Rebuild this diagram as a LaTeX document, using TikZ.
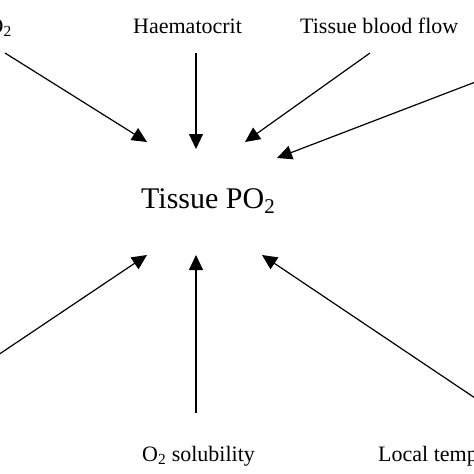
\documentclass[tikz,border=0pt]{standalone}
\usepackage{fontspec}
\setmainfont{Liberation Serif}
\usetikzlibrary{arrows.meta}
\begin{document}
\begin{tikzpicture}[x=1pt,y=-1pt,
  lbl/.style={inner sep=0pt, font=\fontsize{22}{26}\selectfont},
  big/.style={inner sep=0pt, font=\fontsize{30}{34}\selectfont},
  arr/.style={line width=1.2pt, -{Triangle[length=15pt,width=14pt]}}]
\useasboundingbox (0,0) rectangle (474,474);
\clip (0,0) rectangle (474,474);
% labels
\node[big, anchor=base west] (tpo) at (141,208) {Tissue PO\textsubscript{2}};
\node[lbl, anchor=base east] (apo) at (12,33) {PO\textsubscript{2}};
\node[lbl, anchor=base west] (hct) at (133,33) {Haematocrit};
\node[lbl, anchor=base west] (tbf) at (300,33) {Tissue blood flow};
\node[lbl, anchor=base west] (sol) at (142,461) {O\textsubscript{2} solubility};
\node[lbl, anchor=base west] (ltp) at (378,461) {Local temperature};
% arrow end points
\coordinate (s1) at (5,53);    \coordinate (e1) at (147,142);
\coordinate (s2) at (196,53);  \coordinate (e2) at (196,149);
\coordinate (s3) at (370,53);  \coordinate (e3) at (245,142);
\coordinate (s4) at (478,81);  \coordinate (e4) at (277,158);
\coordinate (s5) at (-2,355);  \coordinate (e5) at (147,255);
\coordinate (s6) at (196,413); \coordinate (e6) at (196,255);
\coordinate (s7) at (478,400); \coordinate (e7) at (262,255);
\foreach \i in {1,...,7} {\draw[arr] (s\i) -- (e\i);}
\end{tikzpicture}
\end{document}
